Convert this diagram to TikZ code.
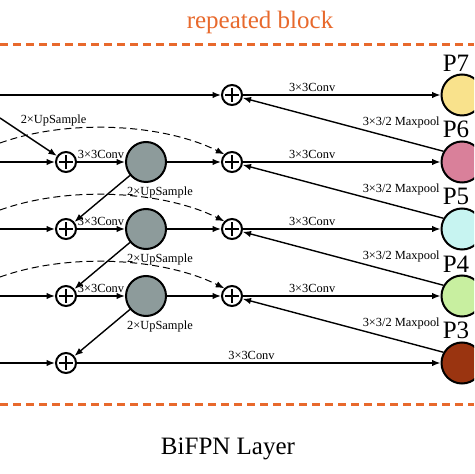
\documentclass[tikz,border=0pt]{standalone}
\usepackage{fontspec}
\setmainfont{Liberation Serif}
\usetikzlibrary{arrows.meta}
\definecolor{BlockOrange}{HTML}{E8692C}
\definecolor{ConvGrey}{HTML}{8D9B9B}
\definecolor{LevelSeven}{HTML}{F9E28C}
\definecolor{LevelSix}{HTML}{D9809A}
\definecolor{LevelFive}{HTML}{C7F4F1}
\definecolor{LevelFour}{HTML}{C8EFA0}
\definecolor{LevelThree}{HTML}{9A3410}

\begin{document}
\begin{tikzpicture}[
  x=0.5pt,y=-0.5pt,
  lab/.style={font=\fontsize{6.2pt}{7pt}\selectfont,inner sep=1.5pt},
  headline/.style={font=\fontsize{12.5pt}{14pt}\selectfont},
  addnode/.style={circle,draw,line width=1pt,minimum size=10pt,inner sep=0pt,fill=white,
    path picture={\draw[line width=1pt] (path picture bounding box.center) +(-3.4pt,0) -- +(3.4pt,0)
      (path picture bounding box.center) +(0,-3.4pt) -- +(0,3.4pt);}},
  convnode/.style={circle,draw,line width=1pt,minimum size=20pt,inner sep=0pt,fill=ConvGrey},
  pnode/.style={circle,draw,line width=1pt,minimum size=20.5pt,inner sep=0pt},
  plab/.style={font=\fontsize{12.5pt}{14pt}\selectfont,inner sep=0pt,xshift=-3pt,yshift=1pt},
  arr/.style={-{Latex[length=4.2pt,width=3.2pt]},line width=0.7pt},
  skiparr/.style={arr,dash pattern=on 3.5pt off 2pt,line width=0.5pt},
  blockline/.style={draw=BlockOrange,line width=1.5pt,dash pattern=on 4pt off 2.5pt}
]
  \useasboundingbox (0,0) rectangle (474,474);
  \fill[white] (0,0) rectangle (474,474);
  \clip (0,0) rectangle (474,474);

  % frame of the repeated block
  \node[headline,text=BlockOrange] (blocktitle) at (260,22) {repeated block};
  \node[headline] (layertitle) at (228,449) {BiFPN Layer};
  \draw[blockline] (0,45) -- (474,45);
  \draw[blockline] (0,404) -- (474,404);

  % inputs entering from the left
  \coordinate (in7) at (0,95);
  \coordinate (in6) at (0,162);
  \coordinate (in5) at (0,229);
  \coordinate (in4) at (0,296);
  \coordinate (in3) at (0,363);
  \coordinate (up7) at (0,118);
  \coordinate (skip6) at (0,143);
  \coordinate (skip5) at (0,210);
  \coordinate (skip4) at (0,277);

  % top-down path
  \node[addnode] (upadd6) at (66,162) {};
  \node[addnode] (upadd5) at (66,229) {};
  \node[addnode] (upadd4) at (66,296) {};
  \node[addnode] (upadd3) at (66,363) {};
  \node[convnode,label={[lab,xshift=7pt]below:2×UpSample}] (conv6) at (146,162) {};
  \node[convnode,label={[lab,xshift=7pt]below:2×UpSample}] (conv5) at (146,229) {};
  \node[convnode,label={[lab,xshift=7pt]below:2×UpSample}] (conv4) at (146,296) {};

  % bottom-up path
  \node[addnode] (outadd7) at (232,95) {};
  \node[addnode] (outadd6) at (232,162) {};
  \node[addnode] (outadd5) at (232,229) {};
  \node[addnode] (outadd4) at (232,296) {};

  % output levels
  \node[pnode,fill=LevelSeven,label={[plab]above:P7}] (p7) at (462,95) {};
  \node[pnode,fill=LevelSix,label={[plab]above:P6}] (p6) at (462,162) {};
  \node[pnode,fill=LevelFive,label={[plab]above:P5}] (p5) at (462,229) {};
  \node[pnode,fill=LevelFour,label={[plab]above:P4}] (p4) at (462,296) {};
  \node[pnode,fill=LevelThree,label={[plab]above:P3}] (p3) at (462,363) {};

  % P7
  \draw[arr] (in7) -- (outadd7);
  \draw[arr] (outadd7) -- node[lab,above,pos=0.35]{3×3Conv} (p7);
  % P6
  \draw[arr] (up7) -- node[lab,pos=0.3,anchor=south west]{2×UpSample} (upadd6);
  \draw[arr] (in6) -- (upadd6);
  \draw[arr] (upadd6) -- node[lab,above]{3×3Conv} (conv6);
  \draw[arr] (conv6) -- (outadd6);
  \draw[arr] (outadd6) -- node[lab,above,pos=0.35]{3×3Conv} (p6);
  \draw[skiparr] (skip6) .. controls +(70,-25) and +(-60,-30) .. (outadd6.135);
  \draw[arr] (p6.150) -- node[lab,pos=0.21,yshift=9pt]{3×3/2 Maxpool} (outadd7);
  % P5
  \draw[arr] (conv6) -- (upadd5);
  \draw[arr] (in5) -- (upadd5);
  \draw[arr] (upadd5) -- node[lab,above]{3×3Conv} (conv5);
  \draw[arr] (conv5) -- (outadd5);
  \draw[arr] (outadd5) -- node[lab,above,pos=0.35]{3×3Conv} (p5);
  \draw[skiparr] (skip5) .. controls +(70,-25) and +(-60,-30) .. (outadd5.135);
  \draw[arr] (p5.150) -- node[lab,pos=0.21,yshift=9pt]{3×3/2 Maxpool} (outadd6);
  % P4
  \draw[arr] (conv5) -- (upadd4);
  \draw[arr] (in4) -- (upadd4);
  \draw[arr] (upadd4) -- node[lab,above]{3×3Conv} (conv4);
  \draw[arr] (conv4) -- (outadd4);
  \draw[arr] (outadd4) -- node[lab,above,pos=0.35]{3×3Conv} (p4);
  \draw[skiparr] (skip4) .. controls +(70,-25) and +(-60,-30) .. (outadd4.135);
  \draw[arr] (p4.150) -- node[lab,pos=0.21,yshift=9pt]{3×3/2 Maxpool} (outadd5);
  % P3
  \draw[arr] (conv4) -- (upadd3);
  \draw[arr] (in3) -- (upadd3);
  \draw[arr] (upadd3) -- node[lab,above,pos=0.48]{3×3Conv} (p3);
  \draw[arr] (p3.150) -- node[lab,pos=0.21,yshift=9pt]{3×3/2 Maxpool} (outadd4);
\end{tikzpicture}
\end{document}
